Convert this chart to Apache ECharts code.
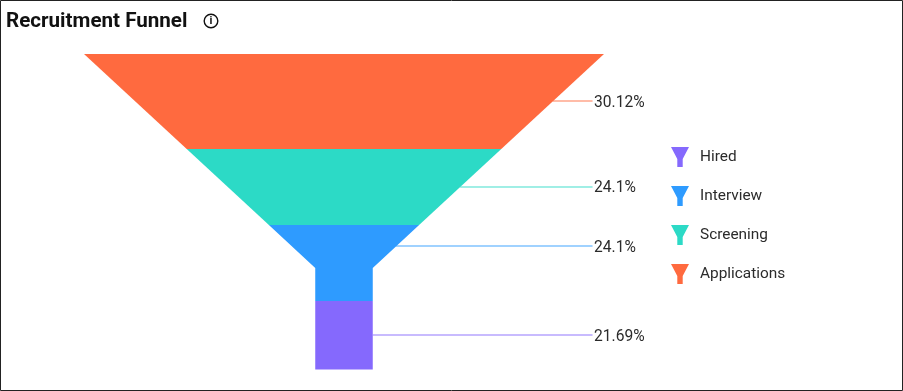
<!DOCTYPE html>
<html>
<head>
<meta charset="utf-8">
<style>html,body{margin:0;padding:0;background:#fff}#c{width:903px;height:391px}</style>
<script src="https://cdn.jsdelivr.net/npm/echarts@6/dist/echarts.min.js"></script>
</head>
<body>
<div id="c"></div>
<script>
// Data, top of the funnel first
const categories = ['Applications', 'Screening', 'Interview', 'Hired'];
const shares = [30.12, 24.1, 24.1, 21.69];
const shareLabels = ['30.12%', '24.1%', '24.1%', '21.69%'];
const colors = ['#FF6A3F', '#2CDAC6', '#2E9BFF', '#8569FD'];
const legendOrder = ['Hired', 'Interview', 'Screening', 'Applications'];

const total = shares.reduce((a, b) => a + b, 0);
const NECK_HALF = 5.53;            // half neck width, in % of the top width
const NECK_START = total * 0.678;  // where the neck starts
const LABEL_X = 47.8;

function halfWidth(y) {
  if (y >= NECK_START) return NECK_HALF;
  return 50 - (50 - NECK_HALF) * y / NECK_START;
}

function renderSegment(params, api) {
  const y0 = api.value(0), y1 = api.value(1);
  const idx = params.seriesIndex;
  const pts = [[-halfWidth(y0), y0], [halfWidth(y0), y0]];
  if (y0 < NECK_START && y1 > NECK_START) {
    pts.push([NECK_HALF, NECK_START], [NECK_HALF, y1], [-NECK_HALF, y1], [-NECK_HALF, NECK_START]);
  } else {
    pts.push([halfWidth(y1), y1], [-halfWidth(y1), y1]);
  }
  // The leader leaves from the middle of the sloped part when a segment contains the neck start
  const yMid = (y0 + (y0 < NECK_START && y1 > NECK_START ? NECK_START : y1)) / 2;
  const a = api.coord([halfWidth(yMid), yMid]);
  const b = api.coord([LABEL_X, yMid]);
  const lineY = Math.round(a[1] - 0.4);
  const color = colors[idx];
  return {
    type: 'group',
    children: [
      { type: 'polygon', shape: { points: pts.map(p => api.coord(p)) }, style: { fill: color } },
      { type: 'line', shape: { x1: a[0], y1: lineY, x2: b[0], y2: lineY },
        style: { stroke: color, lineWidth: 1, opacity: 0.9 } },
      { type: 'text', style: { text: shareLabels[idx], x: b[0] + 1.5, y: a[1] + 1.5, fill: '#2b2b2b',
        font: '15.6px Roboto', textAlign: 'left', textVerticalAlign: 'middle' } }
    ]
  };
}

let cum = 0;
const series = categories.map((name, i) => {
  const start = cum;
  cum += shares[i];
  return {
    type: 'custom', name, coordinateSystem: 'cartesian2d', clip: false,
    itemStyle: { color: colors[i] },
    encode: { x: 2, y: [0, 1] },
    renderItem: renderSegment,
    data: [[start, cum, 0]]
  };
});

const chart = echarts.init(document.getElementById('c'), null, { renderer: 'canvas' });
chart.setOption({
  animation: false,
  backgroundColor: '#fff',
  title: { text: 'Recruitment Funnel', left: 1, top: 6,
    textStyle: { fontFamily: 'Roboto', fontSize: 20.6, fontWeight: 'bold', color: '#111' } },
  grid: { left: 84, top: 54, width: 520, height: 315.5 },
  xAxis: { type: 'value', min: -50, max: 50, show: false },
  yAxis: { type: 'value', min: 0, max: total, inverse: true, show: false },
  legend: {
    orient: 'vertical', left: 666, top: 142, itemWidth: 18, itemHeight: 20, itemGap: 19,
    data: legendOrder.map(name => ({ name, icon: 'path://M0 0H18L11.7 12V20H6.3V12Z' })),
    textStyle: { fontFamily: 'Roboto', fontSize: 15.4, color: '#2b2b2b', padding: [0, 0, 0, 6] }
  },
  series,
  graphic: [
    { type: 'rect', silent: true, shape: { x: 0.5, y: 0.5, width: 902, height: 390 },
      style: { fill: 'transparent', stroke: '#222', lineWidth: 1 } },
    { type: 'circle', silent: true, shape: { cx: 211, cy: 21, r: 6.8 },
      style: { fill: 'transparent', stroke: '#111', lineWidth: 1.4 } },
    { type: 'text', silent: true, x: 211, y: 21.5,
      style: { text: 'i', fill: '#111', font: 'bold 11px Roboto', textAlign: 'center', textVerticalAlign: 'middle' } }
  ]
});
</script>
</body>
</html>
